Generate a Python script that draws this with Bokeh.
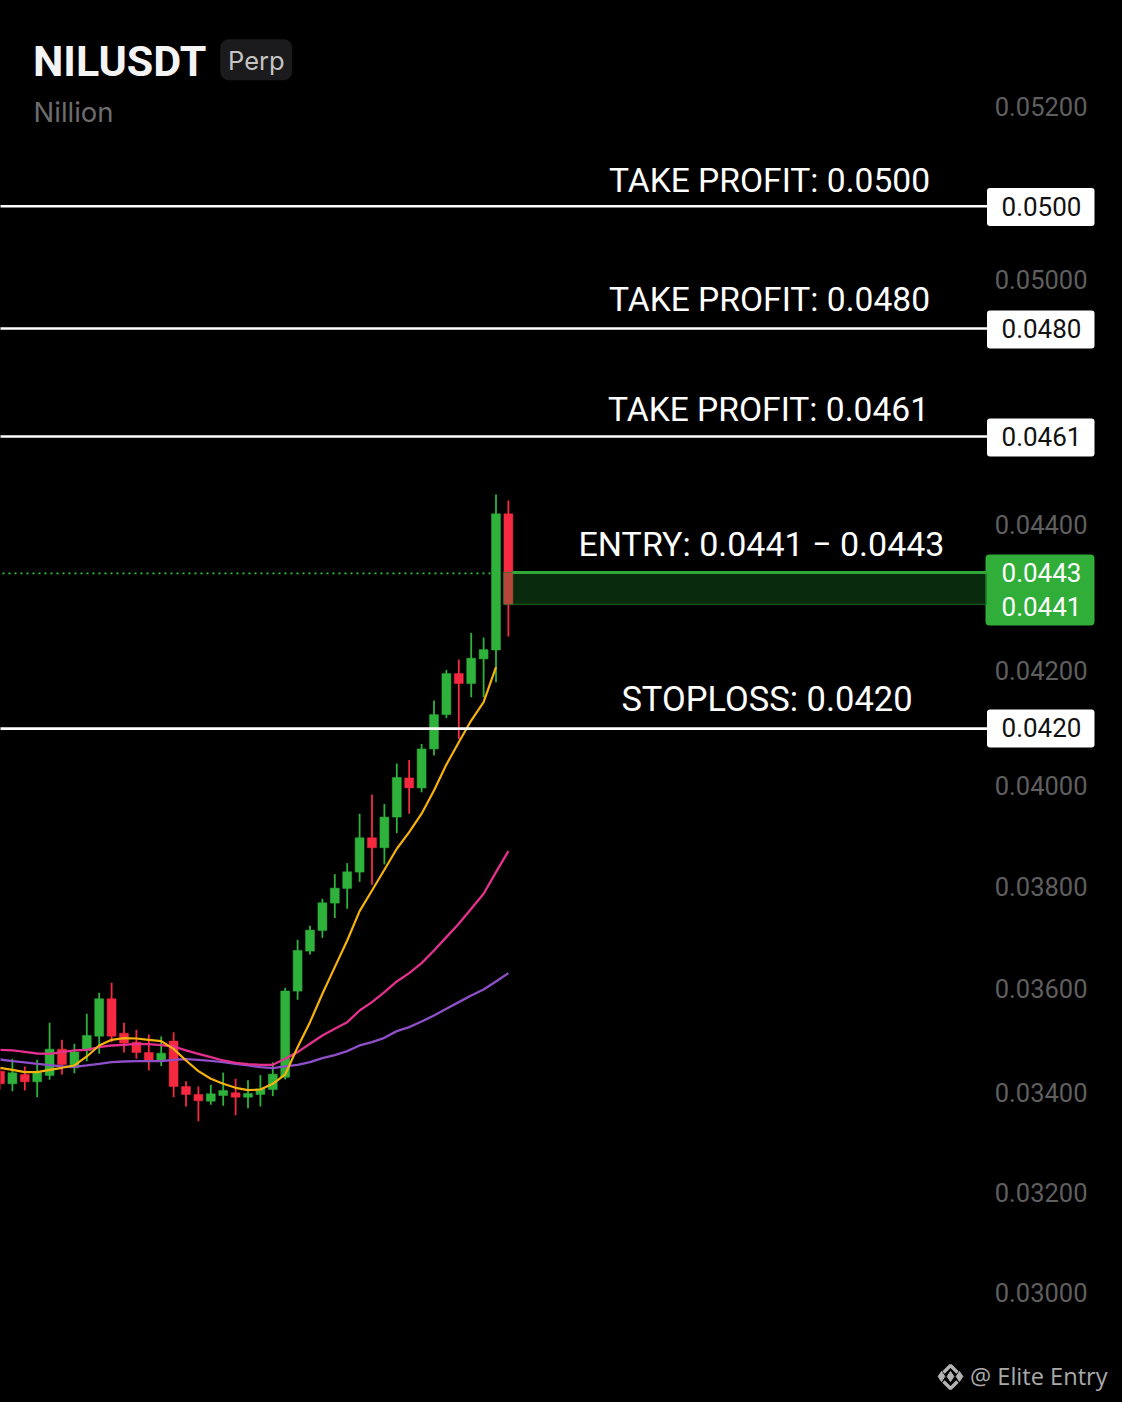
from bokeh.plotting import figure
from bokeh.embed import file_html
from bokeh.resources import INLINE
from bokeh.core.properties import value
from bokeh.models import ColumnDataSource, BoxAnnotation, LinearAxis, FixedTicker, Range1d

# ---------- chart data (prices) ----------
OPEN = [0.034385,0.034135,0.034319,0.034174,0.034300,0.034819,0.034451,0.034793,0.035075,0.035812,0.035134,0.034957,0.034753,0.034595,0.034977,0.034082,0.033925,0.033793,0.033905,0.033958,0.033872,0.033925,0.034023,0.034266,0.035963,0.036752,0.037159,0.037698,0.037988,0.038310,0.038987,0.038790,0.039395,0.040167,0.039970,0.040739,0.041416,0.042225,0.042028,0.042514,0.042690,0.045375]
CLOSE = [0.034135,0.034352,0.034174,0.034359,0.034819,0.034516,0.034760,0.035088,0.035812,0.035075,0.034937,0.034753,0.034582,0.034740,0.034082,0.033925,0.033800,0.033938,0.034004,0.033872,0.033944,0.034036,0.034326,0.035963,0.036765,0.037166,0.037705,0.037994,0.038316,0.038987,0.038790,0.039395,0.040176,0.039970,0.040739,0.041416,0.042225,0.042028,0.042528,0.042698,0.045375,0.043586]
HIGH = [0.034464,0.034628,0.034477,0.034609,0.035338,0.035003,0.034924,0.035516,0.035930,0.036127,0.035338,0.035200,0.035108,0.035069,0.035154,0.034188,0.034082,0.034115,0.034359,0.034234,0.034207,0.034306,0.034556,0.036029,0.036975,0.037251,0.037784,0.038270,0.038487,0.039460,0.039842,0.039651,0.040452,0.040522,0.040838,0.041692,0.042297,0.042501,0.043027,0.042935,0.045756,0.045638]
LOW = [0.034017,0.033990,0.034003,0.033872,0.034214,0.034319,0.034345,0.034582,0.034727,0.034957,0.034753,0.034628,0.034398,0.034484,0.033872,0.033688,0.033399,0.033721,0.033701,0.033517,0.033655,0.033688,0.033892,0.034221,0.035792,0.036686,0.037015,0.037403,0.037587,0.038119,0.038060,0.038461,0.039079,0.039460,0.039884,0.040608,0.041350,0.040936,0.041758,0.041758,0.042054,0.042955]
MA_FAST = [0.034451,0.034411,0.034365,0.034365,0.034411,0.034451,0.034497,0.034674,0.034891,0.035003,0.035036,0.035029,0.035003,0.034977,0.034825,0.034595,0.034385,0.034234,0.034135,0.034056,0.034010,0.034023,0.034135,0.034319,0.034858,0.035351,0.035910,0.036436,0.036962,0.037541,0.037948,0.038356,0.038770,0.039099,0.039461,0.039921,0.040430,0.040870,0.041298,0.041660,0.042350]
MA_MID = [0.034806,0.034793,0.034766,0.034733,0.034727,0.034760,0.034793,0.034806,0.034858,0.034891,0.034904,0.034924,0.034917,0.034898,0.034871,0.034793,0.034727,0.034661,0.034595,0.034549,0.034523,0.034510,0.034510,0.034628,0.034760,0.034924,0.035088,0.035220,0.035351,0.035581,0.035746,0.035943,0.036153,0.036318,0.036515,0.036765,0.037028,0.037291,0.037587,0.037882,0.038310,0.038724]
MA_SLOW = [0.034615,0.034582,0.034556,0.034529,0.034503,0.034477,0.034470,0.034497,0.034529,0.034562,0.034575,0.034582,0.034582,0.034582,0.034608,0.034622,0.034608,0.034589,0.034562,0.034529,0.034497,0.034464,0.034444,0.034477,0.034510,0.034562,0.034641,0.034700,0.034779,0.034891,0.034957,0.035042,0.035174,0.035253,0.035364,0.035483,0.035614,0.035746,0.035877,0.035995,0.036153,0.036318]

TICK_LABELS = ["0.05200","0.05000","0.04400","0.04200","0.04000","0.03800","0.03600","0.03400","0.03200","0.03000"]
TICK_AXIS = [0.05341,0.05000,0.04517,0.04229,0.04002,0.03803,0.03602,0.03396,0.03199,0.03002]

LEVEL_TEXT = ["TAKE PROFIT: 0.0500","TAKE PROFIT: 0.0480","TAKE PROFIT: 0.0461","STOPLOSS: 0.0420"]
LEVEL_TAGS = ["0.0500","0.0480","0.0461","0.0420"]
LEVEL_AXIS = [0.05144,0.04903,0.04690,0.04114]
ENTRY_TEXT = "ENTRY: 0.0441 \u2212 0.0443"
ENTRY_TAGS = ["0.0443","0.0441"]
ENTRY_AXIS = [0.04422,0.04359]
LAST_AXIS = 0.04420

GREEN = "#2fb23c"
RED = "#f52a41"
BG = "#000000"

# ---------- reference pixel <-> data helpers (layout only) ----------
W, H = 1122, 1402
PX_PER_BAR, PX_AT_0 = 12.4, -0.5
PRICE_PER_PX = 0.00001972
def X(px): return (px - PX_AT_0) / PX_PER_BAR
def Y(py): return 0.03 + (1293 - py) * PRICE_PER_PX

p = figure(width=W, height=H, output_backend="svg", toolbar_location=None,
           x_axis_location=None, y_axis_location=None, min_border=0,
           x_range=Range1d(X(0), X(W)), y_range=Range1d(Y(H), Y(0)),
           background_fill_color=BG, border_fill_color=BG, outline_line_color=None)
p.grid.visible = False

# price axis, drawn inside the plot area
axis = LinearAxis(fixed_location=X(1087), ticker=FixedTicker(ticks=TICK_AXIS),
                  major_label_overrides=dict(zip(TICK_AXIS, TICK_LABELS)),
                  major_label_text_color="#5f5f5f", major_label_text_font="Roboto",
                  major_label_text_font_size="25.5px", major_label_standoff=0,
                  major_tick_in=0, major_tick_out=0, minor_tick_in=0, minor_tick_out=0,
                  axis_line_color=None)
p.add_layout(axis, "left")

# candles
n = len(OPEN)
colors = [GREEN if c >= o else RED for o, c in zip(OPEN, CLOSE)]
src = ColumnDataSource(dict(x=list(range(n)), o=OPEN, c=CLOSE, h=HIGH, l=LOW, col=colors))
p.segment("x", "h", "x", "l", source=src, color="col", line_width=1.8)
p.vbar("x", 0.72, "o", "c", source=src, fill_color="col", line_color="col", line_width=0.5)

# moving averages
p.line(list(range(len(MA_SLOW))), MA_SLOW, color="#8e4fc9", line_width=2.3)
p.line(list(range(len(MA_MID))), MA_MID, color="#e6308f", line_width=2.3)
p.line(list(range(len(MA_FAST))), MA_FAST, color="#f5b20f", line_width=2.2)

# last-price dotted line
p.segment([X(-4)], [LAST_AXIS], [X(490)], [LAST_AXIS], color="#2fc83c", line_width=1.8, line_dash="2 4")

# entry zone
p.quad(left=[X(503)], right=[X(986)], top=[ENTRY_AXIS[0]], bottom=[ENTRY_AXIS[1]],
       fill_color="#1f8a28", fill_alpha=0.3, line_color="#1f7a27", line_alpha=0.8, line_width=1)
p.segment([X(512)], [ENTRY_AXIS[0]], [X(986)], [ENTRY_AXIS[0]], color="#2fa838", line_width=3)

# level lines and tags
p.segment([X(-4)] * 4, LEVEL_AXIS, [X(988)] * 4, LEVEL_AXIS, color="#ffffff", line_width=2.6)
TEXT_FONT = value("Roboto")
label_px = [(769, 180), (769, 299), (768, 409), (766.5, 698)]
label_sizes = ["33.6px", "33.6px", "33.6px", "34.5px"]
p.text([X(a) for a, b in label_px], [Y(b) for a, b in label_px], text=LEVEL_TEXT,
       text_color="#ffffff", text_font=TEXT_FONT, text_font_size=label_sizes,
       text_align="center", text_baseline="middle")
p.text([X(761)], [Y(543)], text=[ENTRY_TEXT], text_color="#ffffff", text_font=TEXT_FONT,
       text_font_size="34px", text_align="center", text_baseline="middle")

tag_px = [207, 329, 437, 728]
tag_boxes = [206.5, 329, 437, 728]
for cy in tag_boxes:
    p.add_layout(BoxAnnotation(left=X(986.5), right=X(1094), top=Y(cy - 19), bottom=Y(cy + 19),
                               fill_color="#ffffff", fill_alpha=1, line_color=None,
                               border_radius=3, level="underlay"))
p.text([X(1041)] * 4, [Y(c - 1) for c in tag_px], text=LEVEL_TAGS, text_color="#111111",
       text_font=TEXT_FONT, text_font_size="26px", text_align="center", text_baseline="middle")

p.add_layout(BoxAnnotation(left=X(985), right=X(1094), top=Y(554), bottom=Y(625),
                           fill_color="#31ae39", fill_alpha=1, line_color=None,
                           border_radius=4, level="underlay"))
p.text([X(1041)] * 2, [Y(572), Y(606)], text=ENTRY_TAGS, text_color="#ffffff",
       text_font=TEXT_FONT, text_font_size="26px", text_align="center", text_baseline="middle")

# header
p.add_layout(BoxAnnotation(left=X(220), right=X(291.5), top=Y(39), bottom=Y(79.5),
                           fill_color="#1b1b1d", fill_alpha=1, line_color="#262628",
                           border_radius=8, level="underlay"))
p.text([X(32.5)], [Y(60)], text=["NILUSDT"], text_color="#f4f4f4", text_font=value("Roboto"),
       text_font_size="43px", text_font_style="bold", text_align="left", text_baseline="middle")
p.text([X(227.5)], [Y(59.5)], text=["Perp"], text_color="#c4c4c4", text_font=value("Inter"),
       text_font_size="25.5px", text_align="left", text_baseline="middle")
p.text([X(33)], [Y(111)], text=["Nillion"], text_color="#6c6c6c", text_font=value("Inter"),
       text_font_size="27.5px", text_align="left", text_baseline="middle")

# watermark
LOGO = "#b4b4b4"
p.scatter([X(941), X(959), X(950)], [Y(1376), Y(1376), Y(1376)], marker="diamond",
          size=10, color=LOGO)
p.multi_line([[X(943), X(950), X(957)], [X(943), X(950), X(957)]],
             [[Y(1372), Y(1365), Y(1372)], [Y(1381), Y(1388), Y(1381)]],
             color=LOGO, line_width=3.4)
p.text([X(969.5)], [Y(1375.5)], text=["@ Elite Entry"], text_color="#a9a9a9",
       text_font=value("Open Sans"), text_font_size="23.6px", text_align="left", text_baseline="middle")

PAGE = """{% block preamble %}<style>html,body{background:#000000}</style>{% endblock %}
"""
open("out.html", "w").write(file_html(p, INLINE, template=PAGE))
